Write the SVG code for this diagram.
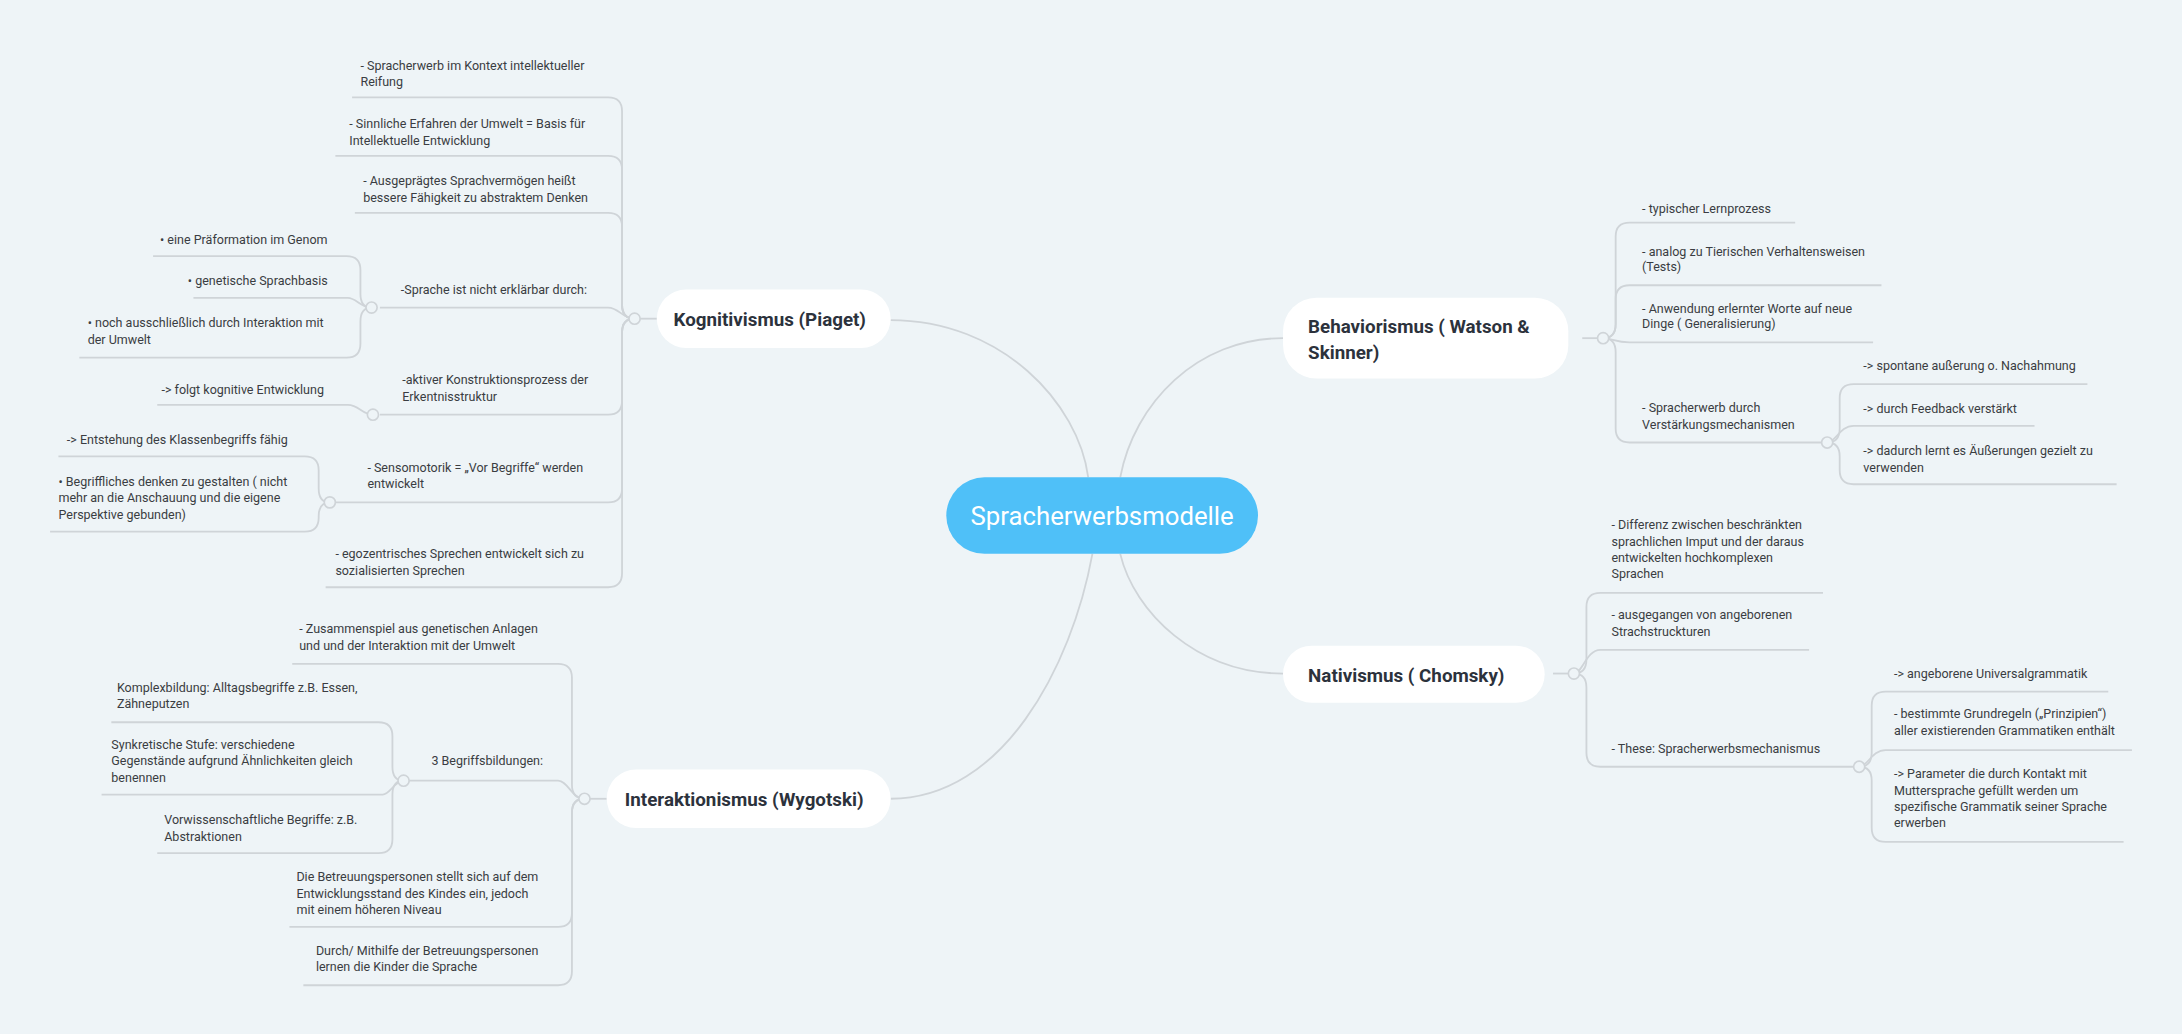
<svg xmlns="http://www.w3.org/2000/svg" width="2182" height="1034" viewBox="0 0 2182 1034">
<style>
.c{fill:none;stroke:#cfd4d8;stroke-width:1.3}
.j{fill:#eef4f7;stroke:#cfd4d8;stroke-width:1.2}
.t{font-family:Roboto,"Liberation Sans",sans-serif;font-size:9px;fill:#3a3d42}
.h{font-family:Roboto,"Liberation Sans",sans-serif;font-size:13.5px;font-weight:bold;fill:#2c323c}
.n{fill:#ffffff}
</style>
<rect width="2182" height="1034" fill="#eef4f7"/>
<g transform="scale(1.3916)">
<g id="connectors">
<path class="c" d="M782,343 C775,290 720,230 640,230"/>
<path class="c" d="M805,343 C815,290 860,243 922,243"/>
<path class="c" d="M805,398 C815,440 860,484 922,484"/>
<path class="c" d="M785,398 C770,480 720,574 640,574"/>
<path class="c" d="M460,229 H472"/>
<path class="c" d="M253,70 H437 Q447,70 447,80 V219 Q447,229 456,229"/>
<path class="c" d="M241,112 H437 Q447,112 447,122 V219 Q447,229 456,229"/>
<path class="c" d="M255,153 H437 Q447,153 447,163 V219 Q447,229 456,229"/>
<path class="c" d="M273,221 H437 C445,221 447,229 456,229"/>
<path class="c" d="M273,298 H437 Q447,298 447,288 V239 Q447,229 456,229"/>
<path class="c" d="M237,361 H437 Q447,361 447,351 V239 Q447,229 456,229"/>
<path class="c" d="M234,422 H437 Q447,422 447,412 V239 Q447,229 456,229"/>
<path class="c" d="M110,184 H249 Q259,184 259,194 V211 Q259,221 267,221"/>
<path class="c" d="M139,214 H250 C256,214 259,221 267,221"/>
<path class="c" d="M57,257 H249 Q259,257 259,247 V231 Q259,221 267,221"/>
<path class="c" d="M113,291 H250 C258,291 260,298 268,298"/>
<path class="c" d="M42,328 H219 Q229,328 229,338 V351 Q229,361 237,361"/>
<path class="c" d="M36,382 H219 Q229,382 229,372 V371 Q229,361 237,361"/>
<path class="c" d="M424,574 H436"/>
<path class="c" d="M210,477 H401 Q411,477 411,487 V564 Q411,574 420,574"/>
<path class="c" d="M290,561 H401 C408,561 411,574 420,574"/>
<path class="c" d="M208,666 H401 Q411,666 411,656 V584 Q411,574 420,574"/>
<path class="c" d="M218,708 H401 Q411,708 411,698 V584 Q411,574 420,574"/>
<path class="c" d="M80,519 H272 Q282,519 282,529 V551 Q282,561 290,561"/>
<path class="c" d="M73,571 H275 C280,571 284,561 290,561"/>
<path class="c" d="M113,613 H272 Q282,613 282,603 V571 Q282,561 290,561"/>
<path class="c" d="M1137,243 H1148"/>
<path class="c" d="M1152,243 Q1161,243 1161,233 V170 Q1161,160 1171,160 H1290"/>
<path class="c" d="M1152,243 Q1161,243 1161,233 V215 Q1161,205 1171,205 H1352"/>
<path class="c" d="M1152,243 C1158,243 1161,246 1171,246 H1346"/>
<path class="c" d="M1152,243 Q1161,243 1161,253 V308 Q1161,318 1171,318 H1313"/>
<path class="c" d="M1313,318 Q1322,318 1322,308 V286 Q1322,276 1332,276 H1500"/>
<path class="c" d="M1313,318 C1319,318 1322,306 1332,306 H1462"/>
<path class="c" d="M1313,318 Q1322,318 1322,328 V338 Q1322,348 1332,348 H1521"/>
<path class="c" d="M1116,484 H1127"/>
<path class="c" d="M1131,484 Q1140,484 1140,474 V436 Q1140,426 1150,426 H1310"/>
<path class="c" d="M1131,484 C1137,484 1140,467 1150,467 H1300"/>
<path class="c" d="M1131,484 Q1140,484 1140,494 V541 Q1140,551 1150,551 H1336"/>
<path class="c" d="M1336,551 Q1345,551 1345,541 V507 Q1345,497 1355,497 H1515"/>
<path class="c" d="M1336,551 C1342,551 1345,539 1355,539 H1532"/>
<path class="c" d="M1336,551 Q1345,551 1345,561 V595 Q1345,605 1355,605 H1526"/>
<circle class="j" cx="456" cy="229" r="4"/>
<circle class="j" cx="267" cy="221" r="4"/>
<circle class="j" cx="268" cy="298" r="4"/>
<circle class="j" cx="237" cy="361" r="4"/>
<circle class="j" cx="420" cy="574" r="4"/>
<circle class="j" cx="290" cy="561" r="4"/>
<circle class="j" cx="1152" cy="243" r="4"/>
<circle class="j" cx="1313" cy="318" r="4"/>
<circle class="j" cx="1131" cy="484" r="4"/>
<circle class="j" cx="1336" cy="551" r="4"/>
</g>
<g id="center">
<rect x="680" y="343" width="224" height="55" rx="27.5" fill="#4fc0f8"/>
<text x="792" y="377" text-anchor="middle" font-family="Roboto,'Liberation Sans',sans-serif" font-size="18.5" fill="#ffffff">Spracherwerbsmodelle</text>
</g>
<g id="kog">
<rect class="n" x="472" y="208" width="168" height="42" rx="21"/>
<text class="h" x="484" y="234">Kognitivismus (Piaget)</text>
</g>
<g id="beh">
<rect class="n" x="922" y="214" width="205" height="58" rx="24"/>
<text class="h" x="940" y="239">Behaviorismus ( Watson &amp;</text>
<text class="h" x="940" y="258">Skinner)</text>
</g>
<g id="nat">
<rect class="n" x="922" y="464" width="188" height="41" rx="20.5"/>
<text class="h" x="940" y="490">Nativismus ( Chomsky)</text>
</g>
<g id="int">
<rect class="n" x="436" y="553" width="204" height="42" rx="21"/>
<text class="h" x="449" y="579">Interaktionismus (Wygotski)</text>
</g>
<g id="leaves">
<text class="t" x="259" y="50">- Spracherwerb im Kontext intellektueller</text>
<text class="t" x="259" y="62">Reifung</text>
<text class="t" x="251" y="92">- Sinnliche Erfahren der Umwelt = Basis für</text>
<text class="t" x="251" y="104">Intellektuelle Entwicklung</text>
<text class="t" x="261" y="133">- Ausgeprägtes Sprachvermögen heißt</text>
<text class="t" x="261" y="145">bessere Fähigkeit zu abstraktem Denken</text>
<text class="t" x="288" y="211">-Sprache ist nicht erklärbar durch:</text>
<text class="t" x="115" y="175">• eine Präformation im Genom</text>
<text class="t" x="135" y="205">• genetische Sprachbasis</text>
<text class="t" x="63" y="235">• noch ausschließlich durch Interaktion mit</text>
<text class="t" x="63" y="247">der Umwelt</text>
<text class="t" x="289" y="276">-aktiver Konstruktionsprozess der</text>
<text class="t" x="289" y="288">Erkentnisstruktur</text>
<text class="t" x="116" y="283">-&gt; folgt kognitive Entwicklung</text>
<text class="t" x="264" y="339">- Sensomotorik = „Vor Begriffe“ werden</text>
<text class="t" x="264" y="351">entwickelt</text>
<text class="t" x="48" y="319">-&gt; Entstehung des Klassenbegriffs fähig</text>
<text class="t" x="42" y="349">• Begriffliches denken zu gestalten ( nicht</text>
<text class="t" x="42" y="361">mehr an die Anschauung und die eigene</text>
<text class="t" x="42" y="373">Perspektive gebunden)</text>
<text class="t" x="241" y="401">- egozentrisches Sprechen entwickelt sich zu</text>
<text class="t" x="241" y="413">sozialisierten Sprechen</text>
<text class="t" x="215" y="455">- Zusammenspiel aus genetischen Anlagen</text>
<text class="t" x="215" y="467">und und der Interaktion mit der Umwelt</text>
<text class="t" x="310" y="550">3 Begriffsbildungen:</text>
<text class="t" x="84" y="497">Komplexbildung: Alltagsbegriffe z.B. Essen,</text>
<text class="t" x="84" y="509">Zähneputzen</text>
<text class="t" x="80" y="538">Synkretische Stufe: verschiedene</text>
<text class="t" x="80" y="550">Gegenstände aufgrund Ähnlichkeiten gleich</text>
<text class="t" x="80" y="562">benennen</text>
<text class="t" x="118" y="592">Vorwissenschaftliche Begriffe: z.B.</text>
<text class="t" x="118" y="604">Abstraktionen</text>
<text class="t" x="213" y="633">Die Betreuungspersonen stellt sich auf dem</text>
<text class="t" x="213" y="645">Entwicklungsstand des Kindes ein, jedoch</text>
<text class="t" x="213" y="657">mit einem höheren Niveau</text>
<text class="t" x="227" y="686">Durch/ Mithilfe der Betreuungspersonen</text>
<text class="t" x="227" y="698">lernen die Kinder die Sprache</text>
<text class="t" x="1180" y="153">- typischer Lernprozess</text>
<text class="t" x="1180" y="184">- analog zu Tierischen Verhaltensweisen</text>
<text class="t" x="1180" y="195">(Tests)</text>
<text class="t" x="1180" y="225">- Anwendung erlernter Worte auf neue</text>
<text class="t" x="1180" y="236">Dinge ( Generalisierung)</text>
<text class="t" x="1180" y="296">- Spracherwerb durch</text>
<text class="t" x="1180" y="308">Verstärkungsmechanismen</text>
<text class="t" x="1339" y="266">-&gt; spontane außerung o. Nachahmung</text>
<text class="t" x="1339" y="297">-&gt; durch Feedback verstärkt</text>
<text class="t" x="1339" y="327">-&gt; dadurch lernt es Äußerungen gezielt zu</text>
<text class="t" x="1339" y="339">verwenden</text>
<text class="t" x="1158" y="380">- Differenz zwischen beschränkten</text>
<text class="t" x="1158" y="392">sprachlichen Imput und der daraus</text>
<text class="t" x="1158" y="404">entwickelten hochkomplexen</text>
<text class="t" x="1158" y="415">Sprachen</text>
<text class="t" x="1158" y="445">- ausgegangen von angeborenen</text>
<text class="t" x="1158" y="457">Strachstruckturen</text>
<text class="t" x="1158" y="541">- These: Spracherwerbsmechanismus</text>
<text class="t" x="1361" y="487">-&gt; angeborene Universalgrammatik</text>
<text class="t" x="1361" y="516">- bestimmte Grundregeln („Prinzipien“)</text>
<text class="t" x="1361" y="528">aller existierenden Grammatiken enthält</text>
<text class="t" x="1361" y="559">-&gt; Parameter die durch Kontakt mit</text>
<text class="t" x="1361" y="571">Muttersprache gefüllt werden um</text>
<text class="t" x="1361" y="583">spezifische Grammatik seiner Sprache</text>
<text class="t" x="1361" y="594">erwerben</text>
</g>
</g>
</svg>
